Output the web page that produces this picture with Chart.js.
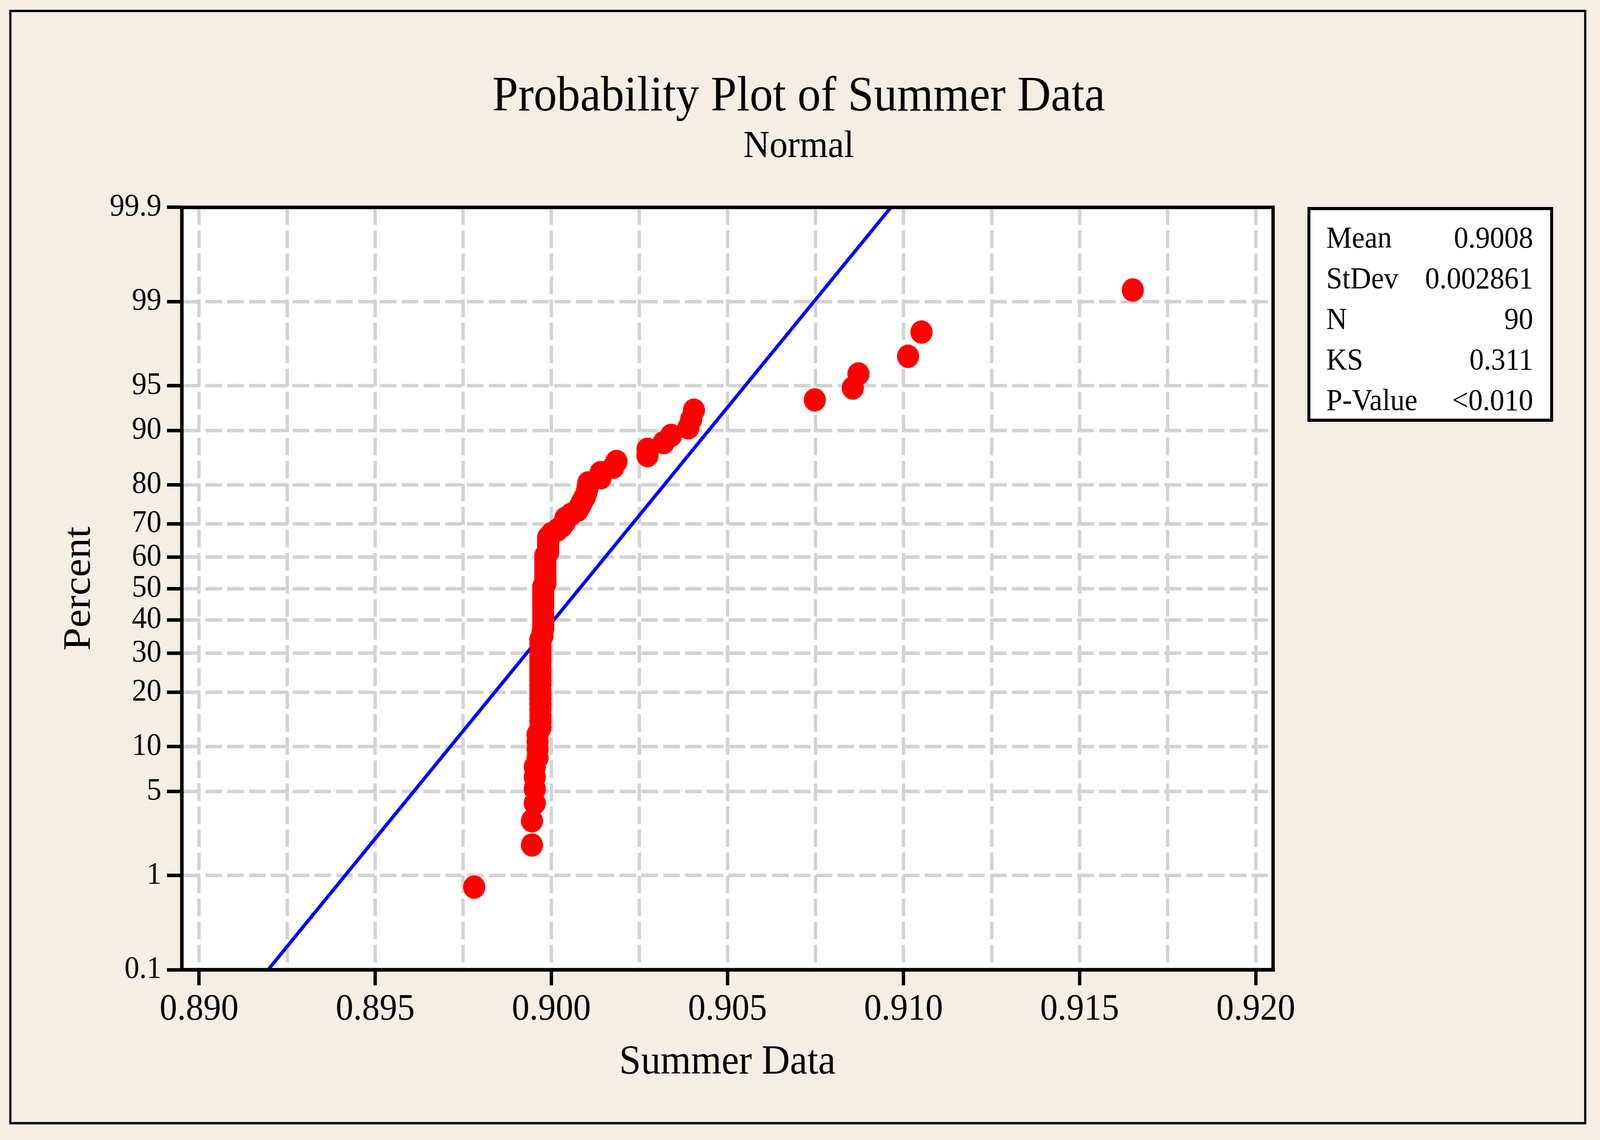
<!DOCTYPE html>
<html>
<head>
<meta charset="utf-8">
<title>Probability Plot of Summer Data</title>
<script src="https://cdn.jsdelivr.net/npm/chart.js@4.4.1/dist/chart.umd.min.js"></script>
<style>
  html, body { margin: 0; padding: 0; background: #f4eee3; overflow: hidden; }
  canvas { display: block; }
</style>
</head>
<body>
<canvas id="plot" width="4331" height="2919" style="width:100vw;height:100vh"></canvas>
<script>
// sorted sample values
const summerData = [
  0.89781,
  0.89945, 0.89945,
  0.89953, 0.89953, 0.89953, 0.89953,
  0.89961, 0.89961, 0.89961, 0.89961,
  0.89969, 0.89969, 0.89969, 0.89969, 0.89969, 0.89969, 0.89969, 0.89969, 0.89969, 0.89969,
  0.89969, 0.89969, 0.89969, 0.89969, 0.89969, 0.89969, 0.89969, 0.89969, 0.89969, 0.89969,
  0.89975, 0.89975,
  0.89977, 0.89977, 0.89977, 0.89977, 0.89977, 0.89977, 0.89977, 0.89977, 0.89977, 0.89977,
  0.89977, 0.89977, 0.89977,
  0.89983, 0.89983, 0.89983, 0.89983, 0.89983, 0.89983, 0.89983, 0.89983, 0.89983,
  0.89991, 0.89991, 0.89991, 0.89991, 0.89991,
  0.90000, 0.90017, 0.90030, 0.90038, 0.90040, 0.90057, 0.90075, 0.90082, 0.90088, 0.90095,
  0.90100, 0.90103, 0.90105, 0.90140, 0.90140, 0.90176, 0.90185, 0.90273, 0.90273, 0.90319,
  0.90340, 0.90389, 0.90397, 0.90405, 0.90748, 0.90856, 0.90872, 0.91013, 0.91051, 0.91651
];

// fitted normal line
const fitMean = 0.9008;
const fitStDev = 0.002861;

const yTickPercents = [0.1, 1, 5, 10, 20, 30, 40, 50, 60, 70, 80, 90, 95, 99, 99.9];
const yTickLabels = ['0.1', '1', '5', '10', '20', '30', '40', '50', '60', '70', '80', '90', '95', '99', '99.9'];

const xTickValues = [0.890, 0.8925, 0.895, 0.8975, 0.900, 0.9025, 0.905, 0.9075, 0.910, 0.9125, 0.915, 0.9175, 0.920];
const xTickLabels = ['0.890', '', '0.895', '', '0.900', '', '0.905', '', '0.910', '', '0.915', '', '0.920'];

const statLabels = ['Mean', 'StDev', 'N', 'KS', 'P-Value'];
const statValues = ['0.9008', '0.002861', '90', '0.311', '<0.010'];

const FONT = "'Liberation Serif', 'Times New Roman', serif";

// inverse of the standard normal cdf (Acklam)
function probit(p) {
  const a = [-3.969683028665376e+01, 2.209460984245205e+02, -2.759285104469687e+02, 1.383577518672690e+02, -3.066479806614716e+01, 2.506628277459239e+00];
  const b = [-5.447609879822406e+01, 1.615858368580409e+02, -1.556989798598866e+02, 6.680131188771972e+01, -1.328068155288572e+01];
  const c = [-7.784894002430293e-03, -3.223964580411365e-01, -2.400758277161838e+00, -2.549732539343734e+00, 4.374664141464968e+00, 2.938163982698783e+00];
  const d = [7.784695709041462e-03, 3.224671290700398e-01, 2.445134137142996e+00, 3.754408661907416e+00];
  const pl = 0.02425;
  let q, r;
  if (p < pl) {
    q = Math.sqrt(-2 * Math.log(p));
    return (((((c[0]*q+c[1])*q+c[2])*q+c[3])*q+c[4])*q+c[5]) / ((((d[0]*q+d[1])*q+d[2])*q+d[3])*q+1);
  }
  if (p > 1 - pl) {
    q = Math.sqrt(-2 * Math.log(1 - p));
    return -(((((c[0]*q+c[1])*q+c[2])*q+c[3])*q+c[4])*q+c[5]) / ((((d[0]*q+d[1])*q+d[2])*q+d[3])*q+1);
  }
  q = p - 0.5;
  r = q * q;
  return (((((a[0]*r+a[1])*r+a[2])*r+a[3])*r+a[4])*r+a[5])*q / (((((b[0]*r+b[1])*r+b[2])*r+b[3])*r+b[4])*r+1);
}

const n = summerData.length;
// median rank plotting positions (i - 0.3) / (n + 0.4)
const points = summerData.map((v, i) => ({ x: v, y: probit((i + 1 - 0.3) / (n + 0.4)) }));

const zLimit = probit(0.999);
const fitLine = [
  { x: fitMean - zLimit * fitStDev, y: -zLimit },
  { x: fitMean + zLimit * fitStDev, y: zLimit }
];

const decor = {
  id: 'decor',
  beforeDraw(chart) {
    const { ctx, chartArea: a } = chart;
    ctx.save();
    ctx.fillStyle = '#f4eee3';
    ctx.fillRect(0, 0, chart.width, chart.height);
    ctx.fillStyle = '#ffffff';
    ctx.fillRect(a.left, a.top, a.right - a.left, a.bottom - a.top);
    ctx.strokeStyle = '#000';
    ctx.lineWidth = 6;
    ctx.strokeRect(28, 28, 4263, 2848);
    ctx.restore();
  },
  afterDraw(chart) {
    const { ctx, chartArea: a } = chart;
    ctx.save();
    ctx.strokeStyle = '#000';
    ctx.lineWidth = 9;
    ctx.strokeRect(a.left, a.top, a.right - a.left, a.bottom - a.top);

    ctx.fillStyle = '#000';
    ctx.textAlign = 'center';
    ctx.textBaseline = 'alphabetic';
    ctx.font = '126px ' + FONT;
    ctx.fillText('Probability Plot of Summer Data', 2162, 283);
    ctx.font = '98px ' + FONT;
    ctx.fillText('Normal', 2162, 402);

    // statistics box
    const bx = 3543, by = a.top + 3, bw = 657, bh = 542;
    ctx.fillStyle = '#ffffff';
    ctx.fillRect(bx, by, bw, bh);
    ctx.lineWidth = 8;
    ctx.strokeRect(bx, by, bw, bh);
    ctx.fillStyle = '#000';
    ctx.font = '78px ' + FONT;
    statLabels.forEach((lab, i) => {
      const y = by + 100 + i * 104;
      ctx.textAlign = 'left';
      ctx.fillText(lab, bx + 47, y);
      ctx.textAlign = 'right';
      ctx.fillText(statValues[i], bx + bw - 50, y);
    });
    ctx.restore();
  }
};

new Chart(document.getElementById('plot'), {
  type: 'scatter',
  data: {
    datasets: [
      {
        label: 'Summer Data',
        data: points,
        backgroundColor: '#ff0000',
        borderWidth: 0,
        pointRadius: 30,
        pointHoverRadius: 30,
        order: 0
      },
      {
        label: 'Fit',
        data: fitLine,
        showLine: true,
        borderColor: '#0000ff',
        borderWidth: 9,
        pointRadius: 0,
        order: 1
      }
    ]
  },
  options: {
    responsive: false,
    animation: false,
    devicePixelRatio: 1,
    events: [],
    layout: { padding: { top: 531, right: 885, bottom: 0, left: 0 } },
    plugins: {
      legend: { display: false },
      tooltip: { enabled: false }
    },
    scales: {
      x: {
        type: 'linear',
        min: 0.889507,
        max: 0.920493,
        afterBuildTicks: s => { s.ticks = xTickValues.map(v => ({ value: v })); },
        afterFit: s => { s.height = 436; },
        ticks: {
          autoSkip: false,
          maxRotation: 0,
          padding: 6,
          color: '#000',
          font: { family: FONT, size: 95 },
          callback: (v, i) => xTickLabels[i]
        },
        grid: {
          color: '#d3d3d3',
          lineWidth: 9,
          tickLength: 40,
          tickWidth: 9,
          tickColor: c => (xTickLabels[c.index] ? '#000' : 'rgba(0,0,0,0)')
        },
        border: { display: true, color: '#000', width: 9, dash: [45, 14] },
        title: {
          display: true,
          text: 'Summer Data',
          color: '#000',
          font: { family: FONT, size: 106 },
          padding: { top: 0, bottom: 134 }
        }
      },
      y: {
        type: 'linear',
        min: -zLimit,
        max: zLimit,
        afterBuildTicks: s => { s.ticks = yTickPercents.map(p => ({ value: probit(p / 100) })); },
        afterFit: s => { s.width = 492; },
        ticks: {
          autoSkip: false,
          padding: 15,
          color: '#000',
          font: { family: FONT, size: 80 },
          callback: (v, i) => yTickLabels[i]
        },
        grid: {
          color: '#d3d3d3',
          lineWidth: 9,
          tickLength: 40,
          tickWidth: 9,
          tickColor: '#000'
        },
        border: { display: true, color: '#000', width: 9, dash: [45, 14] },
        title: {
          display: true,
          text: 'Percent',
          color: '#000',
          font: { family: FONT, size: 106 },
          padding: { top: 152, bottom: 0 }
        }
      }
    }
  },
  plugins: [decor]
});
</script>
</body>
</html>
